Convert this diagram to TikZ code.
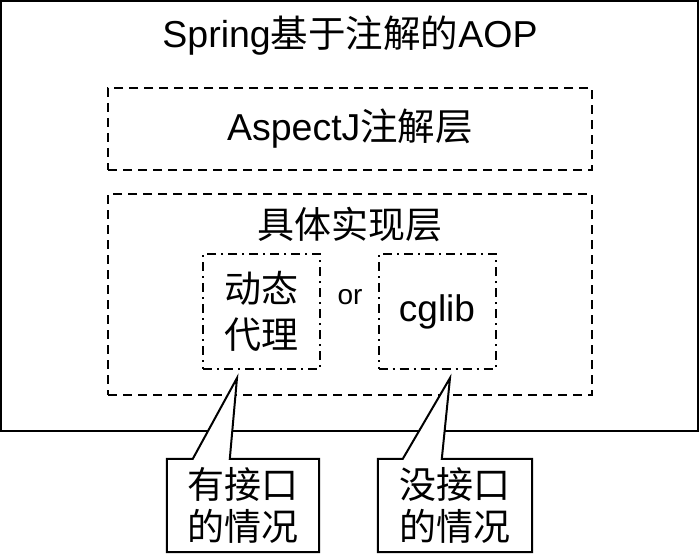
\documentclass[tikz,border=0pt]{standalone}
\usepackage{fontspec}
\setmainfont{Liberation Sans}
\newfontfamily\cjk{Noto Sans CJK SC}
\tikzset{
  frame/.style={draw, line width=2pt},
  layerbox/.style={draw, line width=2pt, dash pattern=on 9pt off 6pt, minimum width=484pt,
    font=\fontsize{37.5}{44}\selectfont},
  implbox/.style={draw, line width=2pt, dash pattern=on 9pt off 5pt on 2pt off 5pt,
    minimum width=117pt, minimum height=115pt, align=center},
  bigtext/.style={font=\fontsize{37.5}{44}\selectfont, align=center, inner sep=0pt},
  cjktext/.style={font=\cjk\fontsize{37}{42}\selectfont, align=center, inner sep=0pt},
  callout/.style={draw, fill=white, line width=2pt},
  calloutbox/.style={minimum width=152pt, minimum height=93pt, inner sep=0pt}
}
\begin{document}
\begin{tikzpicture}[x=1pt, y=-1pt]
  \useasboundingbox (0, 0) rectangle (700, 556);
  % outer container
  \node[frame, minimum width=697pt, minimum height=430pt] (outer) at (349.5, 216) {};
  \node[bigtext] (title) at (350, 36) {Spring{\cjk 基于注解的}AOP};
  % layers
  \node[layerbox, minimum height=82pt] (aspectj) at (350, 129) {AspectJ{\cjk 注解层}};
  \node[layerbox, minimum height=201pt] (impl) at (350, 294.5) {};
  \node[cjktext] (impltitle) at (350, 224) {具体实现层};
  \node[implbox, font=\cjk\fontsize{37}{46}\selectfont] (jdk) at (261.5, 311.5) {动态\\代理};
  \node[font=\fontsize{28}{34}\selectfont] (or) at (350, 297) {or};
  \node[implbox, font=\fontsize{37}{44}\selectfont] (cglib) at (437, 311.5) {cglib};
  % callouts
  \node[calloutbox] (withif) at (243, 505.5) {};
  \coordinate (tipA) at (237, 378);
  \draw[callout] (withif.north west) -- ++(26, 0) -- (tipA) -- ([xshift=63pt]withif.north west)
    -- (withif.north east) -- (withif.south east) -- (withif.south west) -- cycle;
  \node[cjktext] (withiftext) at (withif) {有接口\\的情况};
  \node[calloutbox, minimum width=154pt] (noif) at (455, 505.5) {};
  \coordinate (tipB) at (450, 378);
  \draw[callout] (noif.north west) -- ++(25, 0) -- (tipB) -- ([xshift=64pt]noif.north west)
    -- (noif.north east) -- (noif.south east) -- (noif.south west) -- cycle;
  \node[cjktext] (noiftext) at (noif) {没接口\\的情况};
\end{tikzpicture}
\end{document}
